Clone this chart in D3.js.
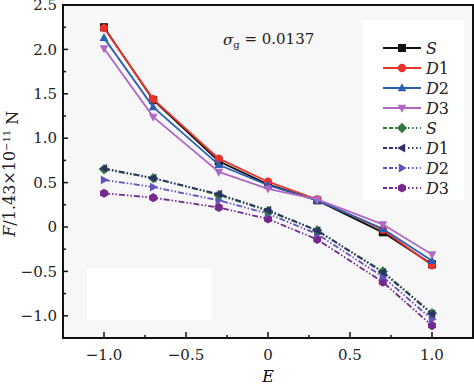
<!DOCTYPE html>
<html>
<head>
<meta charset="utf-8">
<script src="https://cdn.jsdelivr.net/npm/d3@7"></script>
<style>
  body { margin: 0; background: #fff; }
  svg { display: block; }
</style>
</head>
<body>
<div id="chart"></div>
<script>
// x positions shared by all series
var eValues = [-1.0, -0.7, -0.3, 0, 0.3, 0.7, 1.0];

// solid series
var solidS  = [2.25, 1.43, 0.74, 0.48, 0.30, -0.06, -0.42];
var solidD1 = [2.24, 1.44, 0.77, 0.51, 0.31, -0.03, -0.43];
var solidD2 = [2.13, 1.35, 0.70, 0.47, 0.30, -0.02, -0.38];
var solidD3 = [2.01, 1.24, 0.62, 0.43, 0.31, 0.03, -0.31];

// dash-dot series
var dashS  = [0.65, 0.55, 0.36, 0.18, -0.04, -0.50, -0.97];
var dashD1 = [0.66, 0.55, 0.37, 0.19, -0.04, -0.51, -0.98];
var dashD2 = [0.53, 0.45, 0.30, 0.15, -0.08, -0.56, -1.04];
var dashD3 = [0.38, 0.33, 0.22, 0.09, -0.14, -0.62, -1.11];

var xTicks = [-1.0, -0.5, 0, 0.5, 1.0];
var yTicks = [-1.0, -0.5, 0, 0.5, 1.0, 1.5, 2.0, 2.5];

var series = [
  {name: "S",  values: solidS,  color: "#111111", symbol: "square",   dash: null},
  {name: "D1", values: solidD1, color: "#e8332c", symbol: "circle",   dash: null},
  {name: "D2", values: solidD2, color: "#2c5fb3", symbol: "triUp",    dash: null},
  {name: "D3", values: solidD3, color: "#b068c4", symbol: "triDown",  dash: null},
  {name: "S",  values: dashS,   color: "#2f7a3c", symbol: "diamond",  dash: "6,2,1.5,2,1.5,2"},
  {name: "D1", values: dashD1,  color: "#2c3168", symbol: "triLeft",  dash: "6,2,1.5,2,1.5,2"},
  {name: "D2", values: dashD2,  color: "#6351bf", symbol: "triRight", dash: "6,2,1.5,2,1.5,2"},
  {name: "D3", values: dashD3,  color: "#76298c", symbol: "hexagon",  dash: "6,2,1.5,2,1.5,2"}
];

var margin = {top: 5, right: 1, bottom: 46, left: 63},
  width = 474 - margin.left - margin.right,
  height = 384 - margin.top - margin.bottom;

var svg = d3.select("#chart")
.append("svg")
  .attr("width", 474)
  .attr("height", 384)
.append("g")
  .attr("transform", "translate(" + margin.left + "," + margin.top + ")");

var x = d3.scaleLinear().domain([-1.25, 1.25]).range([0, width]);
var y = d3.scaleLinear().domain([-1.25, 2.5]).range([height, 0]);

// plot background (slightly grey, with whiter patches like the scan)
svg.append("rect")
  .attr("width", width).attr("height", height)
  .style("fill", "#f8f7f7");
svg.append("rect")
  .attr("x", 87 - margin.left).attr("y", 268 - margin.top)
  .attr("width", 125).attr("height", 52)
  .style("fill", "#ffffff");
svg.append("rect")
  .attr("x", 362 - margin.left).attr("y", 20 - margin.top)
  .attr("width", 102).attr("height", 180)
  .style("fill", "#ffffff");

var fmt = function(d) {
  if (d === 0) return "0";
  return d3.format(".1f")(d).replace("-", "\u2212");
};

// ticks (inward) and labels
var yMinor = d3.range(-1.25, 2.5001, 0.25);
svg.selectAll(".ytk").data(yMinor).enter().append("line")
  .attr("x1", 0).attr("x2", function(d) { return Math.abs(d * 2 % 1) < 1e-6 ? 5 : 3; })
  .attr("y1", function(d) { return y(d); }).attr("y2", function(d) { return y(d); })
  .style("stroke", "#111").style("stroke-width", 1.5);
var xMinor = d3.range(-1.25, 1.2501, 0.25);
svg.selectAll(".xtk").data(xMinor).enter().append("line")
  .attr("x1", function(d) { return x(d); }).attr("x2", function(d) { return x(d); })
  .attr("y1", height).attr("y2", function(d) { return height - (Math.abs(d * 2 % 1) < 1e-6 ? 6 : 3); })
  .style("stroke", "#111").style("stroke-width", 1.5);

svg.selectAll(".ylab").data(yTicks).enter().append("text")
  .attr("x", -6).attr("y", function(d) { return y(d); })
  .attr("dy", "0.35em")
  .attr("text-anchor", "end")
  .style("font-family", "DejaVu Serif").style("font-size", "15px").style("fill", "#222")
  .text(fmt);
svg.selectAll(".xlab").data(xTicks).enter().append("text")
  .attr("x", function(d) { return x(d); }).attr("y", height + 22)
  .attr("text-anchor", "middle")
  .style("font-family", "DejaVu Serif").style("font-size", "15px").style("fill", "#222")
  .text(fmt);

// frame
svg.append("rect")
  .attr("width", width).attr("height", height)
  .style("fill", "none").style("stroke", "#111").style("stroke-width", 2);

// axis titles
svg.append("text")
  .attr("x", x(0)).attr("y", height + 44)
  .attr("text-anchor", "middle")
  .style("font-family", "DejaVu Serif").style("font-style", "italic").style("font-size", "16px")
  .text("E");

var yt = svg.append("text")
  .attr("transform", "translate(" + (-48) + "," + y(0.6) + ") rotate(-90)")
  .attr("text-anchor", "middle")
  .style("font-family", "DejaVu Serif").style("font-size", "16px").style("fill", "#222");
yt.append("tspan").style("font-style", "italic").text("F");
yt.append("tspan").text("/1.43\u00d710");
yt.append("tspan").attr("dy", "-0.5em").style("font-size", "10px").text("\u221211");
yt.append("tspan").attr("dy", "0.5em").text(" N");

// sigma annotation
var ann = svg.append("text")
  .attr("x", 160).attr("y", 40)
  .style("font-family", "DejaVu Serif").style("font-size", "15px").style("fill", "#222");
ann.append("tspan").style("font-style", "italic").text("\u03c3");
ann.append("tspan").attr("dy", "0.3em").style("font-size", "10px").text("g");
ann.append("tspan").attr("dy", "-0.3em").text(" = 0.0137");

// marker shapes
function symbolPath(sym, r) {
  var s = r;
  switch (sym) {
    case "square": return "M" + (-s) + "," + (-s) + "h" + 2 * s + "v" + 2 * s + "h" + (-2 * s) + "Z";
    case "circle": return d3.symbol(d3.symbolCircle, Math.PI * s * s * 1.1)();
    case "triUp": return "M0," + (-s * 1.2) + "L" + (s * 1.1) + "," + (s * 0.8) + "L" + (-s * 1.1) + "," + (s * 0.8) + "Z";
    case "triDown": return "M0," + (s * 1.2) + "L" + (s * 1.1) + "," + (-s * 0.8) + "L" + (-s * 1.1) + "," + (-s * 0.8) + "Z";
    case "triLeft": return "M" + (-s * 1.2) + ",0L" + (s * 0.8) + "," + (-s * 1.1) + "L" + (s * 0.8) + "," + (s * 1.1) + "Z";
    case "triRight": return "M" + (s * 1.2) + ",0L" + (-s * 0.8) + "," + (-s * 1.1) + "L" + (-s * 0.8) + "," + (s * 1.1) + "Z";
    case "diamond": return "M0," + (-s * 1.3) + "L" + (s * 1.3) + ",0L0," + (s * 1.3) + "L" + (-s * 1.3) + ",0Z";
    case "hexagon":
      var pts = d3.range(6).map(function(i) {
        var a = Math.PI / 3 * i + Math.PI / 6;
        return [Math.cos(a) * s * 1.15, Math.sin(a) * s * 1.15];
      });
      return "M" + pts.join("L") + "Z";
  }
}

var line = d3.line()
  .x(function(d, i) { return x(eValues[i]); })
  .y(function(d) { return y(d); });

// dashed group first (D3 lowest), then solid; later series sit on top
var drawOrder = [7, 6, 4, 5, 0, 1, 2, 3];
drawOrder.forEach(function(k) {
  var s = series[k];
  svg.append("path")
    .datum(s.values)
    .attr("d", line)
    .style("fill", "none")
    .style("stroke", s.color)
    .style("stroke-width", 1.8)
    .style("stroke-dasharray", s.dash);
  svg.selectAll(null).data(s.values).enter().append("path")
    .attr("transform", function(d, i) { return "translate(" + x(eValues[i]) + "," + y(d) + ")"; })
    .attr("d", symbolPath(s.symbol, 4))
    .style("fill", s.color);
});

// legend
var legend = svg.append("g").attr("transform", "translate(" + (383 - margin.left) + "," + (48 - margin.top) + ")");
series.forEach(function(s, i) {
  var g = legend.append("g").attr("transform", "translate(0," + i * 20 + ")");
  if (s.dash) {
    g.append("line").attr("x1", 0).attr("x2", 14)
      .style("stroke", s.color).style("stroke-width", 1.8)
      .style("stroke-dasharray", "4,2");
    g.append("line").attr("x1", 25).attr("x2", 38)
      .style("stroke", s.color).style("stroke-width", 1.8)
      .style("stroke-dasharray", "1.5,2.5");
  } else {
    g.append("line").attr("x1", 0).attr("x2", 38)
      .style("stroke", s.color).style("stroke-width", 1.8);
  }
  g.append("path")
    .attr("transform", "translate(19,0)")
    .attr("d", symbolPath(s.symbol, 4))
    .style("fill", s.color);
  var t = g.append("text")
    .attr("x", 43).attr("dy", "0.35em")
    .style("font-family", "DejaVu Serif").style("font-size", "16px").style("fill", "#222");
  t.append("tspan").style("font-style", "italic").text(s.name.charAt(0));
  t.append("tspan").text(s.name.slice(1));
});
</script>
</body>
</html>
